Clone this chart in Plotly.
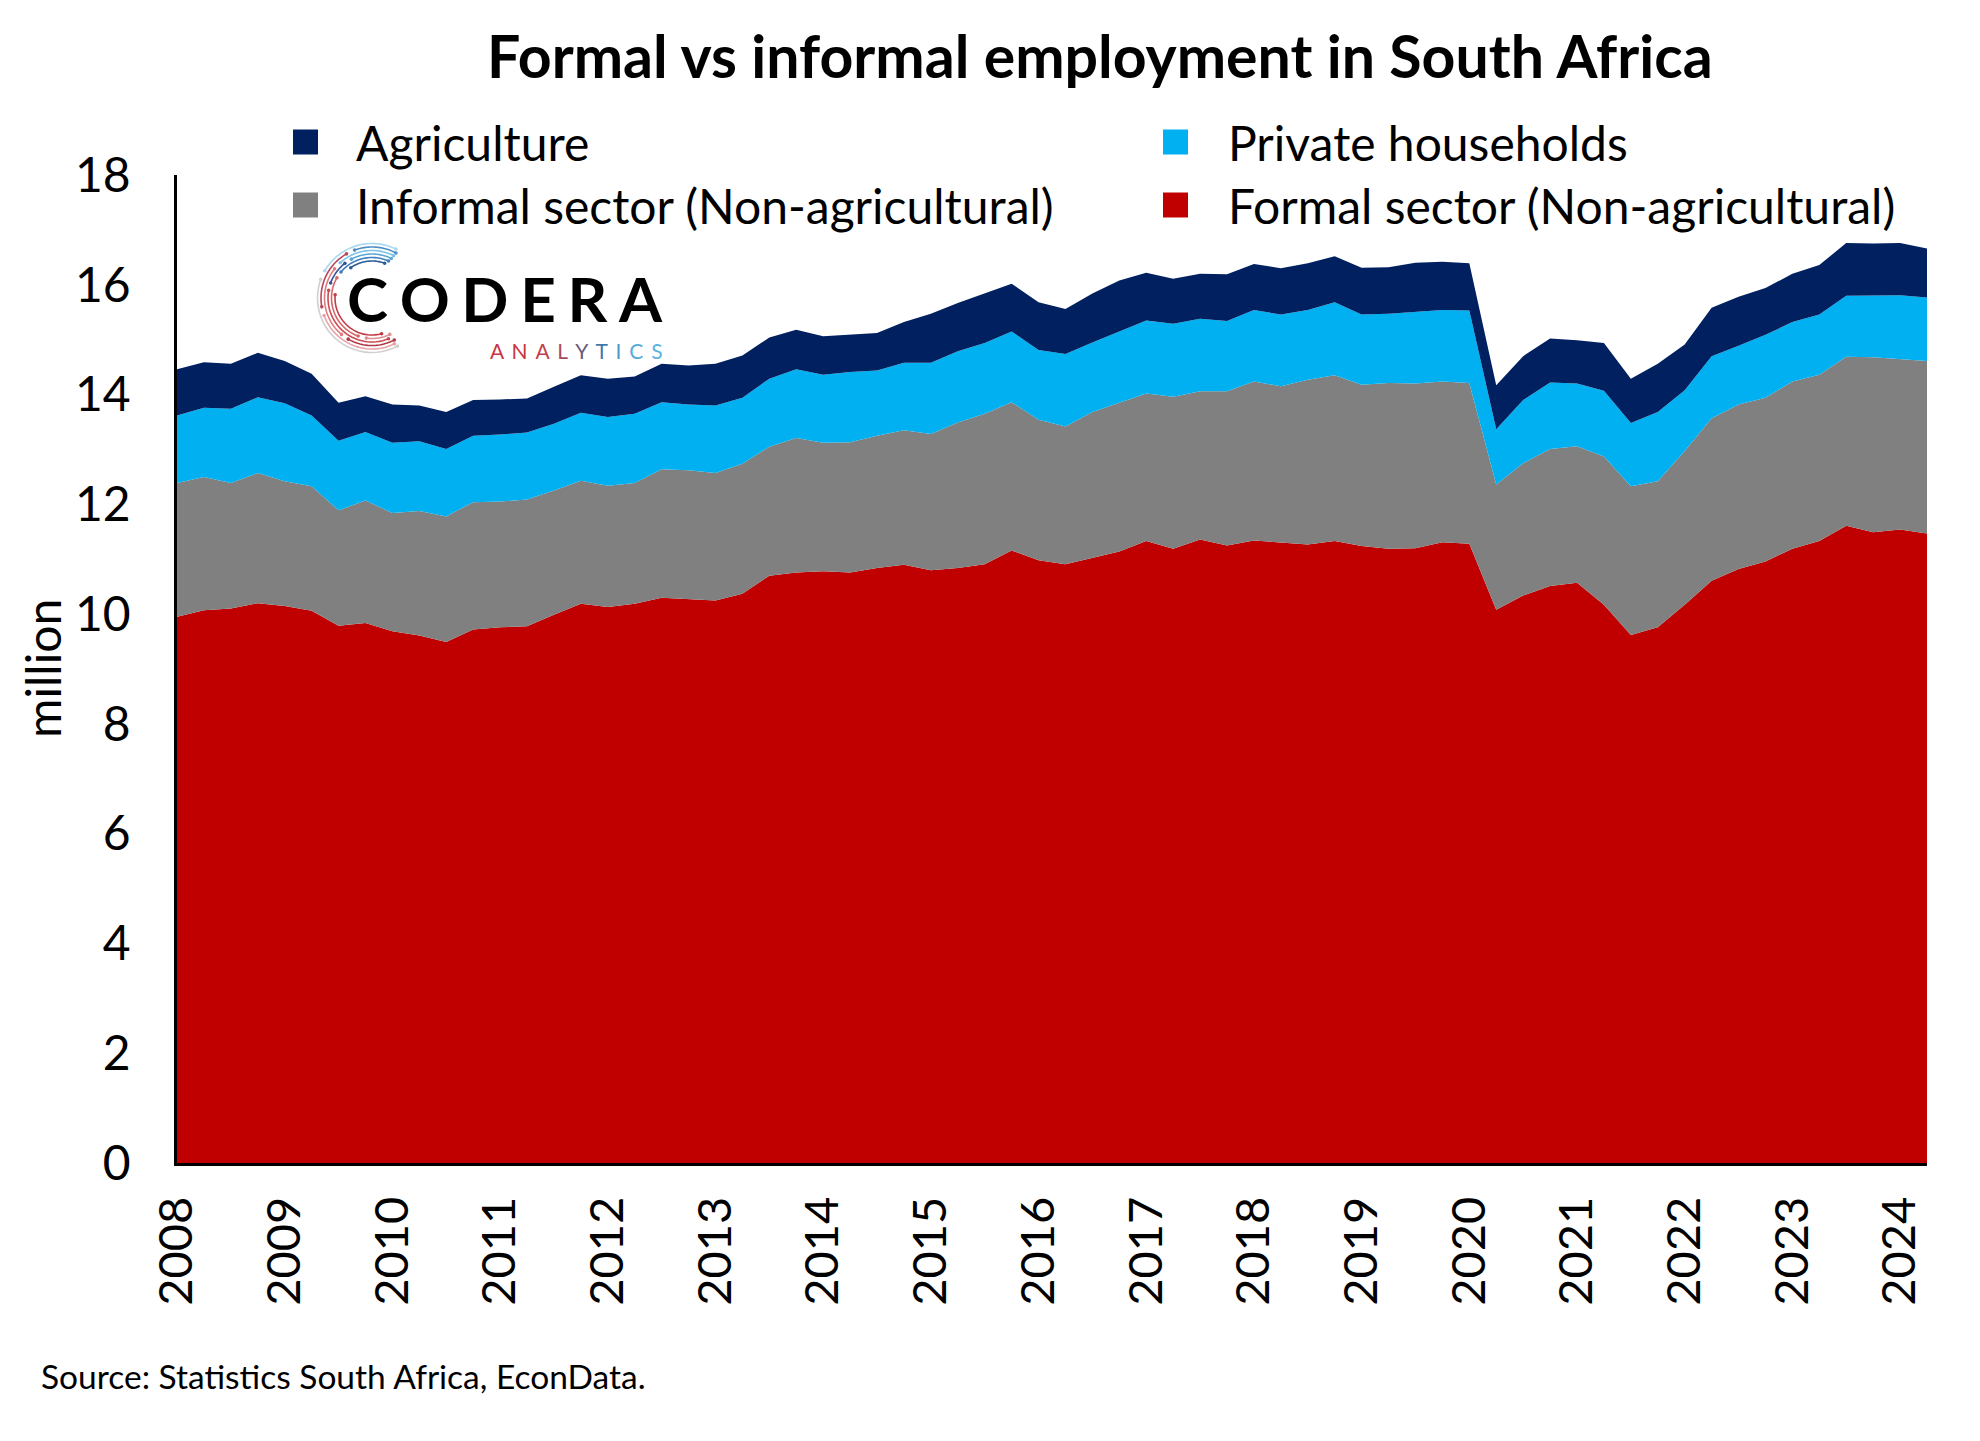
import math
import plotly.graph_objects as go

# ---------------- data ----------------
years = list(range(2008, 2025))
quarters = [f"{y} Q{q}" for y in years for q in (1, 2, 3, 4)][:66]
tick_vals = [f"{y} Q1" for y in years]
tick_text = [str(y) for y in years]

formal = [9.95, 10.07, 10.10, 10.20, 10.15, 10.06, 9.79, 9.84, 9.69, 9.61,
          9.49, 9.72, 9.76, 9.78, 9.99, 10.19, 10.13, 10.19, 10.30, 10.27,
          10.25, 10.37, 10.70, 10.76, 10.78, 10.76, 10.84, 10.90, 10.80, 10.84,
          10.91, 11.16, 10.98, 10.91, 11.02, 11.14, 11.33, 11.19, 11.36, 11.25,
          11.34, 11.31, 11.27, 11.33, 11.24, 11.19, 11.20, 11.31, 11.28, 10.08,
          10.34, 10.51, 10.57, 10.17, 9.62, 9.76, 10.17, 10.61, 10.82, 10.96,
          11.19, 11.33, 11.61, 11.49, 11.54, 11.47]

informal = [2.44, 2.43, 2.29, 2.37, 2.27, 2.27, 2.10, 2.23, 2.15, 2.27,
            2.29, 2.32, 2.29, 2.31, 2.26, 2.24, 2.21, 2.20, 2.34, 2.35,
            2.32, 2.37, 2.35, 2.45, 2.34, 2.37, 2.41, 2.45, 2.48, 2.65,
            2.74, 2.70, 2.56, 2.51, 2.66, 2.71, 2.69, 2.77, 2.70, 2.81,
            2.90, 2.84, 3.00, 3.02, 2.94, 3.02, 3.00, 2.93, 2.93, 2.28,
            2.41, 2.50, 2.49, 2.70, 2.71, 2.66, 2.80, 2.96, 3.00, 2.98,
            3.05, 3.03, 3.08, 3.19, 3.10, 3.14]

private_households = [1.23, 1.26, 1.35, 1.38, 1.42, 1.29, 1.27, 1.25, 1.28, 1.27,
                      1.23, 1.21, 1.22, 1.22, 1.22, 1.24, 1.25, 1.26, 1.22, 1.20,
                      1.23, 1.20, 1.24, 1.25, 1.24, 1.28, 1.19, 1.23, 1.30, 1.30,
                      1.29, 1.29, 1.27, 1.32, 1.27, 1.30, 1.33, 1.33, 1.32, 1.28,
                      1.30, 1.31, 1.27, 1.33, 1.28, 1.26, 1.30, 1.30, 1.32, 1.01,
                      1.15, 1.21, 1.14, 1.20, 1.15, 1.26, 1.11, 1.13, 1.07, 1.15,
                      1.08, 1.10, 1.11, 1.12, 1.17, 1.16]

agriculture = [0.84, 0.83, 0.82, 0.81, 0.77, 0.76, 0.69, 0.65, 0.70, 0.65,
               0.67, 0.65, 0.64, 0.62, 0.67, 0.68, 0.70, 0.68, 0.70, 0.71,
               0.76, 0.77, 0.75, 0.72, 0.70, 0.68, 0.68, 0.74, 0.89, 0.88,
               0.91, 0.87, 0.87, 0.82, 0.89, 0.93, 0.87, 0.82, 0.82, 0.85,
               0.84, 0.84, 0.85, 0.84, 0.85, 0.85, 0.90, 0.88, 0.86, 0.80,
               0.80, 0.80, 0.79, 0.87, 0.81, 0.88, 0.83, 0.88, 0.89, 0.85,
               0.88, 0.90, 0.96, 0.95, 0.95, 0.89]

series_names = ["Formal sector (Non-agricultural)", "Informal sector (Non-agricultural)",
                "Private households", "Agriculture"]
series_values = [formal, informal, private_households, agriculture]
series_colors = ["#C00000", "#808080", "#00B0F0", "#002060"]

# ---------------- layout geometry (pixels) ----------------
W, H = 1980, 1441
PL, PR, PT, PB = 177, 1927, 175, 1163
FONT = "Lato, 'Open Sans', sans-serif"


def px(X):
    return (X - PL) / (PR - PL)


def py(Y):
    return (PB - Y) / (PB - PT)


fig = go.Figure()
for name, vals, col in zip(series_names, series_values, series_colors):
    fig.add_trace(go.Scatter(
        x=quarters, y=vals, name=name, mode="lines",
        stackgroup="one", line=dict(width=0, color=col),
        fillcolor=col, showlegend=False, hoverinfo="x+y+name"))

shapes = []
annotations = []

# Title
annotations.append(dict(text="<b>Formal vs informal employment in South Africa</b>",
                        x=px(1100), y=py(56), xref="paper", yref="paper",
                        xanchor="center", yanchor="middle", showarrow=False,
                        font=dict(family=FONT, size=59, color="black")))

# Custom legend (square markers)
legend_items = [("Agriculture", "#002060", 293, 354, 142),
                ("Private households", "#00B0F0", 1163, 1226, 142),
                ("Informal sector (Non-agricultural)", "#808080", 293, 354, 205),
                ("Formal sector (Non-agricultural)", "#C00000", 1163, 1226, 205)]
for label, col, sx, tx, cy in legend_items:
    shapes.append(dict(type="rect", xref="paper", yref="paper",
                       x0=px(sx), x1=px(sx + 25), y0=py(cy + 12.5), y1=py(cy - 12.5),
                       fillcolor=col, line=dict(width=0)))
    annotations.append(dict(text=label, x=px(tx), y=py(cy), xref="paper", yref="paper",
                            xanchor="left", yanchor="middle", showarrow=False,
                            font=dict(family=FONT, size=48, color="black")))

# y-axis title
annotations.append(dict(text="million", x=px(42), y=py(669), xref="paper", yref="paper",
                        xanchor="center", yanchor="middle", showarrow=False, textangle=-90,
                        font=dict(family=FONT, size=48, color="black")))

# Source note
annotations.append(dict(text="Source: Statistics South Africa, EconData.",
                        x=px(39), y=py(1376), xref="paper", yref="paper",
                        xanchor="left", yanchor="middle", showarrow=False,
                        font=dict(family=FONT, size=33.5, color="black")))

# ---------------- logo ----------------
SP = "\u2009\u200a"
annotations.append(dict(text="<b>" + SP.join("CODERA") + "</b>", x=px(505), y=py(298),
                        xref="paper", yref="paper", xanchor="center", yanchor="middle",
                        showarrow=False, font=dict(family=FONT, size=62, color="black")))
an_colors = ["#c8373f", "#c8373f", "#c23f49", "#a84b60", "#6a5b7c",
             "#3f79a8", "#4b9ccd", "#56abd9", "#5ab4e0"]
GAP = " \u2009"
an_text = GAP.join(f"<span style='color:{c}'>{ch}</span>" for ch, c in zip("ANALYTICS", an_colors))
annotations.append(dict(text=an_text, x=px(576), y=py(350),
                        xref="paper", yref="paper", xanchor="center", yanchor="middle",
                        showarrow=False, font=dict(family=FONT, size=21, color="#c8373f")))

CX, CY = 372, 298
arc_specs = [
    (37, 70, 125, "#2c5d96"), (37, 175, 285, "#c23b44"),
    (40.5, 66, 140, "#3f7fbf"), (40.5, 150, 250, "#d9656b"), (40.5, 262, 296, "#e08f93"),
    (44, 64, 118, "#5aa9d6"), (44, 128, 160, "#34549a"), (44, 170, 292, "#cc4a52"),
    (47.5, 63, 132, "#7cc5e8"), (47.5, 142, 230, "#e07b80"), (47.5, 240, 298, "#b03a48"),
    (51, 62, 110, "#4e8fc6"), (51, 120, 190, "#b8485c"), (51, 200, 296, "#e7a3a6"),
    (54.5, 64, 150, "#a9d8ee"), (54.5, 160, 298, "#d0d0d0"),
]
for r, a0, a1, col in arc_specs:
    n = 30
    pts = []
    for j in range(n + 1):
        a = math.radians(a0 + (a1 - a0) * j / n)
        X = CX + r * math.cos(a)
        Y = CY - r * math.sin(a)
        pts.append(f"{px(X):.5f},{py(Y):.5f}")
    path = "M " + " L ".join(pts)
    shapes.append(dict(type="path", path=path, xref="paper", yref="paper",
                       line=dict(color=col, width=1.6)))
    for a in (a0, a1):
        X = CX + r * math.cos(math.radians(a))
        Y = CY - r * math.sin(math.radians(a))
        shapes.append(dict(type="circle", xref="paper", yref="paper",
                           x0=px(X - 1.8), x1=px(X + 1.8), y0=py(Y + 1.8), y1=py(Y - 1.8),
                           fillcolor=col, line=dict(width=0)))

fig.update_layout(
    width=W, height=H,
    margin=dict(l=PL, r=W - PR, t=PT, b=H - PB, pad=0),
    paper_bgcolor="white", plot_bgcolor="white",
    font=dict(family=FONT, color="black"),
    showlegend=False,
    shapes=shapes, annotations=annotations,
    xaxis=dict(type="category", categoryorder="array", categoryarray=quarters,
               range=[0, len(quarters) - 1],
               tickmode="array", tickvals=tick_vals, ticktext=tick_text,
               tickangle=-90, tickfont=dict(family=FONT, size=47, color="black"),
               ticks="", showgrid=False, zeroline=False,
               showline=True, linecolor="black", linewidth=3,
               ticklabelstandoff=12),
    yaxis=dict(range=[0, 18], dtick=2, tick0=0,
               tickfont=dict(family=FONT, size=48, color="black"),
               ticks="", showgrid=False, zeroline=False,
               showline=True, linecolor="black", linewidth=2.5,
               ticklabelstandoff=34),
)

fig.write_html("out.html")
